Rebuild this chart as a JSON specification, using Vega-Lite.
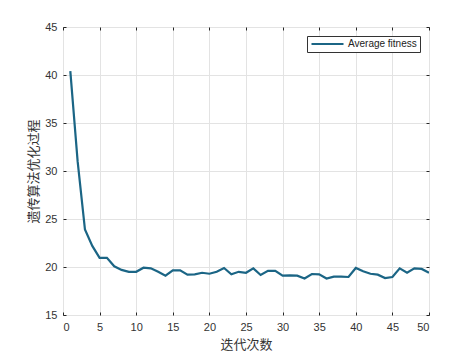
{
  "$schema": "https://vega.github.io/schema/vega-lite/v6.json",
  "autosize": {"type": "none"},
  "padding": {"left": 63, "top": 27, "right": 45, "bottom": 40},
  "width": 366,
  "height": 288,
  "background": "white",
  "config": {
    "view": {"stroke": "#262626", "strokeWidth": 1},
    "font": "Liberation Sans",
    "axis": {
      "labelFont": "Liberation Sans",
      "labelFontSize": 11,
      "labelColor": "#333333",
      "gridColor": "#e3e3e3",
      "gridWidth": 1,
      "domain": false,
      "tickColor": "#262626",
      "tickSize": -3
    }
  },
  "data": {
    "values": [
      {"iter": 1, "fitness": 40.4},
      {"iter": 2, "fitness": 31.0},
      {"iter": 3, "fitness": 23.9},
      {"iter": 4, "fitness": 22.2},
      {"iter": 5, "fitness": 20.95},
      {"iter": 6, "fitness": 20.95},
      {"iter": 7, "fitness": 20.07},
      {"iter": 8, "fitness": 19.7},
      {"iter": 9, "fitness": 19.5},
      {"iter": 10, "fitness": 19.5},
      {"iter": 11, "fitness": 19.93},
      {"iter": 12, "fitness": 19.86},
      {"iter": 13, "fitness": 19.5},
      {"iter": 14, "fitness": 19.1},
      {"iter": 15, "fitness": 19.65},
      {"iter": 16, "fitness": 19.65},
      {"iter": 17, "fitness": 19.2},
      {"iter": 18, "fitness": 19.24},
      {"iter": 19, "fitness": 19.4},
      {"iter": 20, "fitness": 19.3},
      {"iter": 21, "fitness": 19.5},
      {"iter": 22, "fitness": 19.9},
      {"iter": 23, "fitness": 19.24},
      {"iter": 24, "fitness": 19.5},
      {"iter": 25, "fitness": 19.4},
      {"iter": 26, "fitness": 19.86},
      {"iter": 27, "fitness": 19.17},
      {"iter": 28, "fitness": 19.6},
      {"iter": 29, "fitness": 19.6},
      {"iter": 30, "fitness": 19.1},
      {"iter": 31, "fitness": 19.13},
      {"iter": 32, "fitness": 19.1},
      {"iter": 33, "fitness": 18.8},
      {"iter": 34, "fitness": 19.27},
      {"iter": 35, "fitness": 19.24},
      {"iter": 36, "fitness": 18.8},
      {"iter": 37, "fitness": 19.0},
      {"iter": 38, "fitness": 19.0},
      {"iter": 39, "fitness": 18.96},
      {"iter": 40, "fitness": 19.9},
      {"iter": 41, "fitness": 19.55},
      {"iter": 42, "fitness": 19.3},
      {"iter": 43, "fitness": 19.2},
      {"iter": 44, "fitness": 18.85},
      {"iter": 45, "fitness": 18.96},
      {"iter": 46, "fitness": 19.86},
      {"iter": 47, "fitness": 19.4},
      {"iter": 48, "fitness": 19.86},
      {"iter": 49, "fitness": 19.8},
      {"iter": 50, "fitness": 19.4}
    ]
  },
  "resolve": {"axis": {"x": "independent", "y": "independent"}},
  "layer": [
    {
      "mark": {"type": "line", "strokeWidth": 2.2, "color": "#1b6585", "clip": true},
      "encoding": {
        "x": {
          "field": "iter", "type": "quantitative",
          "scale": {"domain": [0, 50], "nice": false, "zero": false},
          "axis": {"orient": "bottom", "values": [0,5,10,15,20,25,30,35,40,45,50], "title": "迭代次数", "titleFont": "Noto Sans CJK SC", "titleFontSize": 13, "titleFontWeight": "normal", "titleColor": "#333333", "titlePadding": 6, "labelPadding": 9, "grid": true}
        },
        "y": {
          "field": "fitness", "type": "quantitative",
          "scale": {"domain": [15, 45], "nice": false, "zero": false},
          "axis": {"orient": "left", "values": [15,20,25,30,35,40,45], "title": "遗传算法优化过程", "titleFont": "Noto Sans CJK SC", "titleFontSize": 13, "titleFontWeight": "normal", "titleColor": "#333333", "titlePadding": 4, "labelPadding": 9, "grid": true}
        },
        "stroke": {
          "datum": "Average fitness", "type": "nominal",
          "scale": {"range": ["#1b6585"]},
          "legend": {
            "title": null, "orient": "none", "legendX": 244, "legendY": 9,
            "symbolType": "M-1,0H1", "symbolSize": 1024, "symbolStrokeWidth": 2.2,
            "clipHeight": 10,
            "labelFont": "Liberation Sans", "labelFontSize": 10, "labelColor": "#222222",
            "strokeColor": "#333333", "fillColor": "white", "padding": 3, "labelOffset": 3
          }
        }
      }
    },
    {
      "mark": {"type": "point", "opacity": 0},
      "encoding": {
        "x": {
          "field": "iter", "type": "quantitative",
          "scale": {"domain": [0, 50], "nice": false, "zero": false},
          "axis": {"orient": "top", "values": [0,5,10,15,20,25,30,35,40,45,50], "labels": false, "title": null, "grid": false}
        },
        "y": {
          "field": "fitness", "type": "quantitative",
          "scale": {"domain": [15, 45], "nice": false, "zero": false},
          "axis": {"orient": "right", "values": [15,20,25,30,35,40,45], "labels": false, "title": null, "grid": false}
        }
      }
    }
  ]
}
